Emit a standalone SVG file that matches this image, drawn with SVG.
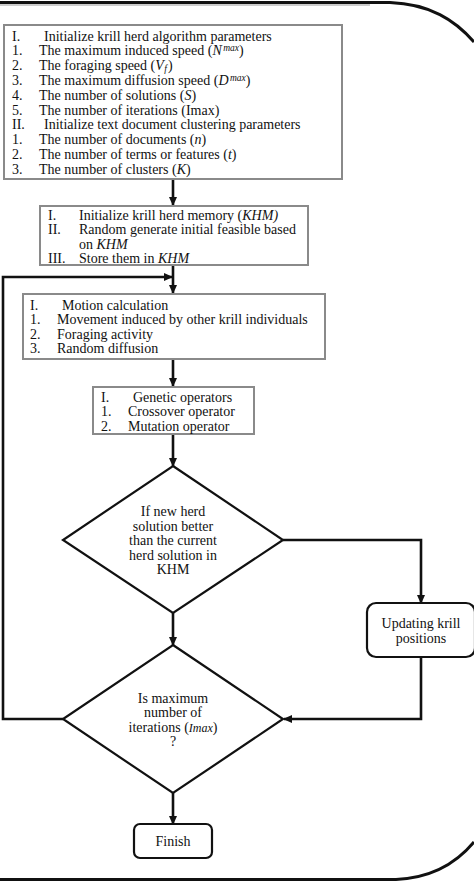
<svg xmlns="http://www.w3.org/2000/svg" width="474" height="882" viewBox="0 0 474 882">
<defs>
<style>
text{font-family:"Liberation Serif","Times New Roman",serif;font-size:14px;fill:#111}
.c{text-anchor:middle}
.i{font-style:italic}
.sm{font-size:9.5px;font-style:italic}
.box{fill:#fff;stroke:#8a8a8a;stroke-width:2}
.rbox{fill:#fff;stroke:#111;stroke-width:2.2}
.dia{fill:#fff;stroke:#111;stroke-width:2.2}
.con{fill:none;stroke:#111;stroke-width:2.6}
.frame{fill:none;stroke:#111;stroke-width:3}
</style>
<marker id="ah" markerUnits="userSpaceOnUse" markerWidth="9" markerHeight="8" refX="8" refY="4" orient="auto">
<path d="M0,0 L9,4 L0,8 z" fill="#111"/>
</marker>
</defs>
<rect width="474" height="882" fill="#fff"/>
<g id="frame">
<path class="frame" d="M0,2.5 L390,2.5 C430,4 455,20 474,42"/>
<line x1="0" y1="5" x2="370" y2="5" stroke="#bbb" stroke-width="1.5"/>
<path class="frame" d="M0,879.5 L396,879.5 C430,878 455,865 474,842"/>
</g>
<g id="connectors">
<line class="con" x1="173" y1="180" x2="173" y2="205" marker-end="url(#ah)"/>
<line class="con" x1="173" y1="266" x2="173" y2="293" marker-end="url(#ah)"/>
<path class="con" d="M63,719 L3,719 L3,277 L172,277" marker-end="url(#ah)"/>
<line class="con" x1="173" y1="360" x2="173" y2="386" marker-end="url(#ah)"/>
<line class="con" x1="173" y1="435" x2="173" y2="466" marker-end="url(#ah)"/>
<path class="con" d="M283,540 L421,540 L421,603" marker-end="url(#ah)"/>
<path class="con" d="M421,657 L421,719 L284,719" marker-end="url(#ah)"/>
<line class="con" x1="173" y1="613" x2="173" y2="645" marker-end="url(#ah)"/>
<line class="con" x1="173" y1="793" x2="173" y2="824" marker-end="url(#ah)"/>
</g>
<g id="init-params">
<rect class="box" x="4" y="25" width="338" height="154"/>
<text x="12" y="40.5">I.</text><text x="44" y="40.5">Initialize krill herd algorithm parameters</text>
<text x="12" y="55.3">1.</text><text x="39" y="55.3">The maximum induced speed (<tspan class="i">N</tspan><tspan class="sm" dx="1.5" dy="-4">max</tspan><tspan dy="4">)</tspan></text>
<text x="12" y="70.1">2.</text><text x="39" y="70.1">The foraging speed (<tspan class="i">V</tspan><tspan class="sm" dx="0.5" dy="2">f</tspan><tspan dx="1" dy="-2">)</tspan></text>
<text x="12" y="84.9">3.</text><text x="39" y="84.9">The maximum diffusion speed (<tspan class="i">D</tspan><tspan class="sm" dx="1.5" dy="-4">max</tspan><tspan dy="4">)</tspan></text>
<text x="12" y="99.7">4.</text><text x="39" y="99.7">The number of solutions (<tspan class="i">S</tspan>)</text>
<text x="12" y="114.5">5.</text><text x="39" y="114.5">The number of iterations (Imax)</text>
<text x="12" y="129.3">II.</text><text x="44" y="129.3">Initialize text document clustering parameters</text>
<text x="12" y="144.1">1.</text><text x="39" y="144.1">The number of documents (<tspan class="i">n</tspan>)</text>
<text x="12" y="158.9">2.</text><text x="39" y="158.9">The number of terms or features (<tspan class="i">t</tspan>)</text>
<text x="12" y="173.7">3.</text><text x="39" y="173.7">The number of clusters (<tspan class="i">K</tspan>)</text>
</g>
<g id="init-memory">
<rect class="box" x="40" y="206" width="268" height="59"/>
<text x="48" y="219.5">I.</text><text x="79" y="219.5">Initialize krill herd memory (<tspan class="i">KHM)</tspan></text>
<text x="48" y="234">II.</text><text x="79" y="234">Random generate initial feasible based</text>
<text x="79" y="248.5">on <tspan class="i">KHM</tspan></text>
<text x="48" y="262.5">III.</text><text x="79" y="262.5">Store them in <tspan class="i">KHM</tspan></text>
</g>
<g id="motion">
<rect class="box" x="23" y="294" width="302" height="65"/>
<text x="30" y="309.5">I.</text><text x="62" y="309.5">Motion calculation</text>
<text x="30" y="324">1.</text><text x="57" y="324">Movement induced by other krill individuals</text>
<text x="30" y="338.5">2.</text><text x="57" y="338.5">Foraging activity</text>
<text x="30" y="353">3.</text><text x="57" y="353">Random diffusion</text>
</g>
<g id="genetic">
<rect class="box" x="93" y="387" width="161" height="47"/>
<text x="101" y="401.5">I.</text><text x="133" y="401.5">Genetic operators</text>
<text x="101" y="416">1.</text><text x="128" y="416">Crossover operator</text>
<text x="101" y="430.5">2.</text><text x="128" y="430.5">Mutation operator</text>
</g>
<g id="decision-better">
<polygon class="dia" points="173,466 283,540 173,613 63,540"/>
<text class="c" x="173" y="516">If new herd</text>
<text class="c" x="173" y="530.5">solution better</text>
<text class="c" x="173" y="545">than the current</text>
<text class="c" x="173" y="559.5">herd solution in</text>
<text class="c" x="173" y="574">KHM</text>
</g>
<g id="updating">
<rect class="rbox" x="367" y="603" width="108" height="54" rx="9"/>
<text class="c" x="421" y="627.5">Updating krill</text>
<text class="c" x="421" y="643">positions</text>
</g>
<g id="decision-max">
<polygon class="dia" points="173,645 283,719 173,793 63,719"/>
<text class="c" x="173" y="702.5">Is maximum</text>
<text class="c" x="173" y="717">number of</text>
<text class="c" x="173" y="731.5">iterations (<tspan class="i" font-size="12">Imax</tspan>)</text>
<text class="c" x="173" y="746">?</text>
</g>
<g id="finish">
<rect class="rbox" x="134" y="824" width="78" height="34" rx="6"/>
<text class="c" x="173" y="846">Finish</text>
</g>
</svg>
